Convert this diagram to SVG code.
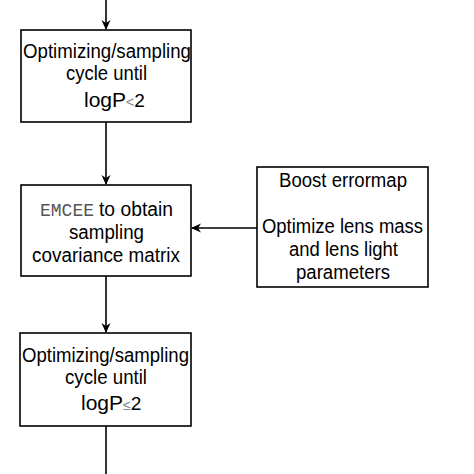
<svg xmlns="http://www.w3.org/2000/svg" width="474" height="474" viewBox="0 0 474 474">
<style>
.box{fill:#fff;stroke:#000;stroke-width:1.6}
.t{font-family:"Liberation Sans",Arial,sans-serif;font-size:20px;fill:#000}
.mono{font-family:"Liberation Mono","Courier New",monospace;fill:#555;font-size:18px}
.sym{fill:#888;font-size:14px}
.c{stroke:#000;stroke-width:1.6;fill:none}
</style>
<defs>
<marker id="ah" markerWidth="10" markerHeight="10" refX="9" refY="5" orient="auto" markerUnits="userSpaceOnUse">
<path d="M0,0.5 L10,5 L0,9.5 L3,5 Z" fill="#000"/>
</marker>
</defs>
<rect width="474" height="474" fill="#fff"/>
<g id="connectors">
<line class="c" x1="106" y1="0" x2="106" y2="29" marker-end="url(#ah)"/>
<line class="c" x1="106" y1="122" x2="106" y2="184" marker-end="url(#ah)"/>
<line class="c" x1="257" y1="228" x2="192" y2="228" marker-end="url(#ah)"/>
<line class="c" x1="106" y1="276" x2="106" y2="332" marker-end="url(#ah)"/>
<line class="c" x1="106" y1="426" x2="106" y2="474"/>
</g>
<g id="node1">
<rect class="box" x="21" y="30" width="170" height="92"/>
<text class="t" x="23" y="58" textLength="168" lengthAdjust="spacingAndGlyphs">Optimizing/sampling</text>
<text class="t" x="66" y="80" textLength="81" lengthAdjust="spacingAndGlyphs">cycle until</text>
<text class="t" x="84" y="107" style="font-size:21px">logP<tspan class="sym">&lt;</tspan><tspan style="font-size:19px">2</tspan></text>
</g>
<g id="node2">
<rect class="box" x="21" y="185" width="170" height="91"/>
<text class="t" x="40" y="216"><tspan class="mono">EMCEE</tspan><tspan x="99" textLength="74" lengthAdjust="spacingAndGlyphs">to obtain</tspan></text>
<text class="t" x="69" y="239" textLength="75" lengthAdjust="spacingAndGlyphs">sampling</text>
<text class="t" x="32" y="262" textLength="148" lengthAdjust="spacingAndGlyphs">covariance matrix</text>
</g>
<g id="node3">
<rect class="box" x="257" y="167" width="171" height="120"/>
<text class="t" x="279" y="187" textLength="128" lengthAdjust="spacingAndGlyphs">Boost errormap</text>
<text class="t" x="262" y="233" textLength="161" lengthAdjust="spacingAndGlyphs">Optimize lens mass</text>
<text class="t" x="289" y="256" textLength="109" lengthAdjust="spacingAndGlyphs">and lens light</text>
<text class="t" x="296" y="279" textLength="94" lengthAdjust="spacingAndGlyphs">parameters</text>
</g>
<g id="node4">
<rect class="box" x="20" y="333" width="171" height="93"/>
<text class="t" x="22" y="362" textLength="167" lengthAdjust="spacingAndGlyphs">Optimizing/sampling</text>
<text class="t" x="65" y="384" textLength="82" lengthAdjust="spacingAndGlyphs">cycle until</text>
<text class="t" x="81" y="410" style="font-size:21px">logP<tspan class="sym">≤</tspan><tspan style="font-size:19px">2</tspan></text>
</g>
</svg>
